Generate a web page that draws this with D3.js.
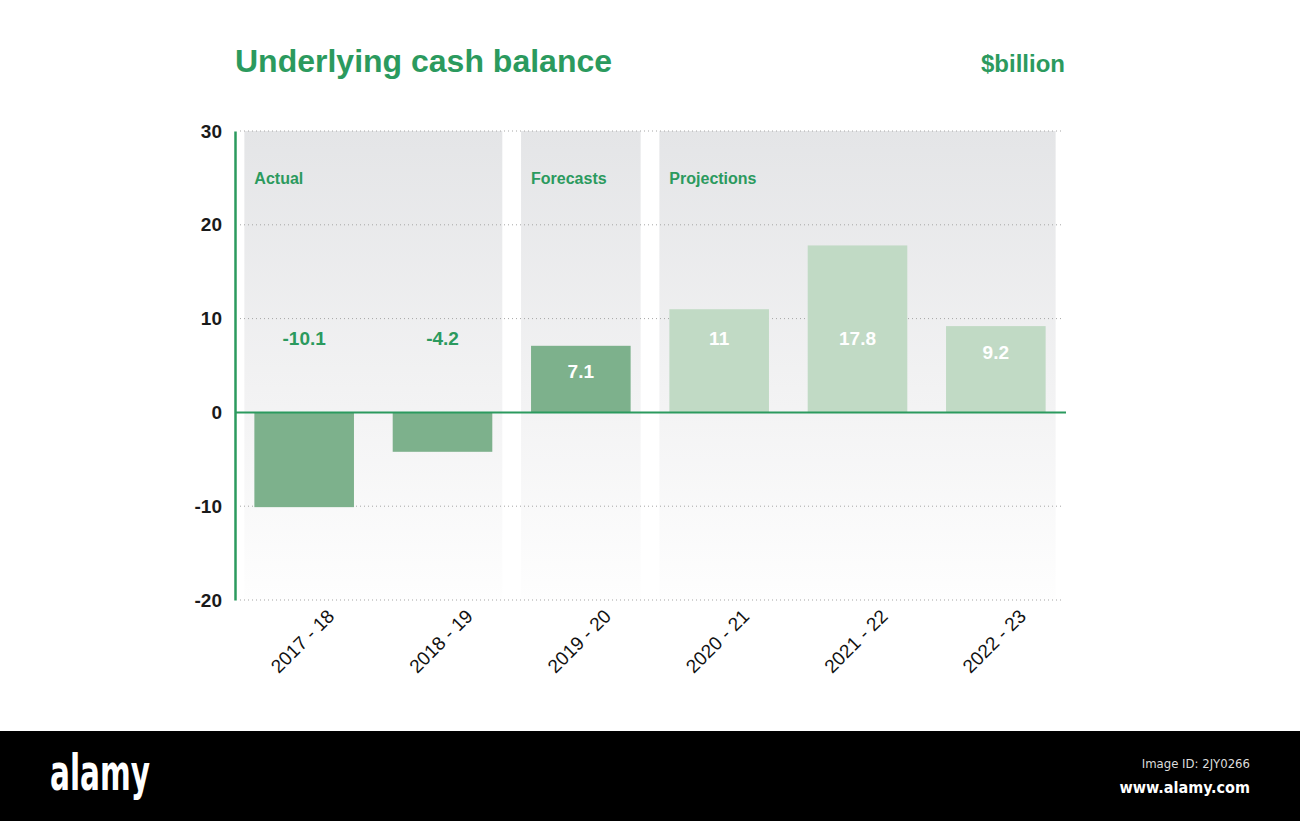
<!DOCTYPE html>
<html>
<head>
<meta charset="utf-8">
<script src="https://cdn.jsdelivr.net/npm/d3@7"></script>
<style>
  html, body { margin: 0; padding: 0; background: #fff; }
  svg { display: block; font-family: "Liberation Sans", Arial, sans-serif; }
</style>
</head>
<body>
<div id="viz"></div>
<script>
// data
const years = ['2017 - 18', '2018 - 19', '2019 - 20', '2020 - 21', '2021 - 22', '2022 - 23'];
const balance = [-10.1, -4.2, 7.1, 11, 17.8, 9.2];
const kind = ['actual', 'actual', 'forecast', 'projection', 'projection', 'projection'];
const sections = [
  { label: 'Actual', from: 0, to: 1 },
  { label: 'Forecasts', from: 2, to: 2 },
  { label: 'Projections', from: 3, to: 5 }
];
const yTicks = [30, 20, 10, 0, -10, -20];

const W = 1300, H = 821;
const green = '#2b9a5e';
const barColor = { actual: '#7db18c', forecast: '#7db18c', projection: '#c1dac5' };

const svg = d3.select('#viz').append('svg').attr('width', W).attr('height', H);

const x = d3.scaleBand().domain(years).range([235, 1065]).paddingInner(0.28).paddingOuter(0.14);
const y = d3.scaleLinear().domain([-20, 30]).range([600, 131]);

const defs = svg.append('defs');
const grad = defs.append('linearGradient').attr('id', 'panelGrad')
  .attr('x1', 0).attr('y1', 0).attr('x2', 0).attr('y2', 1);
grad.append('stop').attr('offset', '0%').attr('stop-color', '#e4e5e7');
grad.append('stop').attr('offset', '55%').attr('stop-color', '#f2f2f3');
grad.append('stop').attr('offset', '100%').attr('stop-color', '#fefefe');

// section panels
const secG = svg.append('g');
sections.forEach(s => {
  const x0 = x(years[s.from]) - 10;
  const x1 = x(years[s.to]) + x.bandwidth() + 10;
  secG.append('rect').attr('x', x0).attr('y', y(30)).attr('width', x1 - x0).attr('height', y(-20) - y(30))
    .attr('fill', 'url(#panelGrad)');
  secG.append('text').attr('x', x0 + 10).attr('y', 184)
    .attr('fill', green).attr('font-size', 16).attr('font-weight', 'bold').text(s.label);
});

// gridlines
svg.append('g').selectAll('line').data(yTicks.filter(d => d !== 0)).join('line')
  .attr('x1', 240).attr('x2', 1063)
  .attr('y1', d => y(d)).attr('y2', d => y(d))
  .attr('stroke', '#a5a5a5').attr('stroke-width', 1).attr('stroke-dasharray', '1,3');

// bars
svg.append('g').selectAll('rect').data(balance).join('rect')
  .attr('x', (d, i) => x(years[i]))
  .attr('y', d => y(Math.max(0, d)))
  .attr('width', x.bandwidth())
  .attr('height', d => Math.abs(y(d) - y(0)))
  .attr('fill', (d, i) => barColor[kind[i]]);

// value labels
const capY = y(7.85);
svg.append('g').selectAll('text').data(balance).join('text')
  .attr('x', (d, i) => x(years[i]) + x.bandwidth() / 2)
  .attr('y', d => d < 0 ? capY : Math.max(y(d) + 26, capY))
  .attr('dy', '0.35em')
  .attr('text-anchor', 'middle')
  .attr('font-size', 19).attr('font-weight', 'bold')
  .attr('fill', d => d < 0 ? green : '#ffffff')
  .text(d => d);

// zero line and y axis
svg.append('line').attr('x1', 235).attr('x2', 1066).attr('y1', y(0)).attr('y2', y(0))
  .attr('stroke', green).attr('stroke-width', 2);

const yAxis = svg.append('g').attr('transform', 'translate(235,0)')
  .call(d3.axisLeft(y).tickValues(yTicks).tickFormat(d => String(d)).tickSize(0).tickPadding(13));
yAxis.select('.domain').attr('stroke', green).attr('stroke-width', 2.5);
yAxis.selectAll('text').attr('font-size', 19).attr('font-weight', 'bold')
  .attr('fill', '#1a1a1a').attr('font-family', '"Liberation Sans", Arial, sans-serif');

// category labels
svg.append('g').selectAll('text').data(years).join('text')
  .attr('transform', d => `translate(${x(d) + x.bandwidth() / 2 + 22},${608}) rotate(-45)`)
  .attr('text-anchor', 'end').attr('dy', '0.7em')
  .attr('font-size', 19).attr('fill', '#111')
  .text(d => d);

// titles
svg.append('text').attr('x', 235).attr('y', 72)
  .attr('fill', green).attr('font-size', 32).attr('font-weight', 'bold')
  .text('Underlying cash balance');
svg.append('text').attr('x', 1065).attr('y', 72).attr('text-anchor', 'end')
  .attr('fill', green).attr('font-size', 24).attr('font-weight', 'bold')
  .text('$billion');

// footer strip
svg.append('rect').attr('x', 0).attr('y', 731).attr('width', W).attr('height', H - 731).attr('fill', '#000');
svg.append('text').attr('x', 50).attr('y', 790)
  .attr('fill', '#fff').attr('font-size', 50).attr('font-weight', 'bold')
  .attr('font-family', '"DejaVu Sans Condensed", "DejaVu Sans", sans-serif')
  .attr('textLength', 100).attr('lengthAdjust', 'spacingAndGlyphs')
  .text('alamy');
svg.append('text').attr('x', 1250).attr('y', 768).attr('text-anchor', 'end')
  .attr('fill', '#ddd').attr('font-size', 13)
  .attr('font-family', '"DejaVu Sans Condensed", "DejaVu Sans", sans-serif')
  .text('Image ID: 2JY0266');
svg.append('text').attr('x', 1250).attr('y', 793).attr('text-anchor', 'end')
  .attr('fill', '#fff').attr('font-size', 16).attr('font-weight', 'bold')
  .attr('font-family', '"DejaVu Sans Condensed", "DejaVu Sans", sans-serif')
  .text('www.alamy.com');
</script>
</body>
</html>
